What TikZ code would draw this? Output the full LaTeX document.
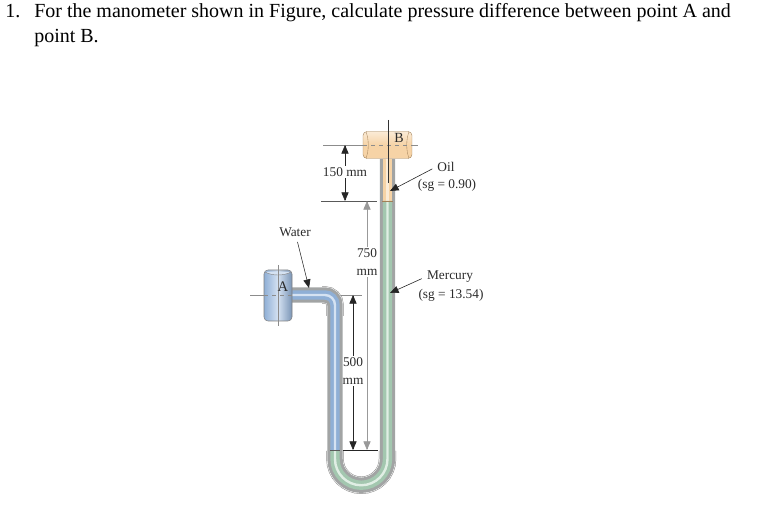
\documentclass[tikz,border=0pt]{standalone}
\usepackage{fontspec}
\setmainfont{Liberation Serif}
\usepackage{tikz}
\usetikzlibrary{arrows}
\definecolor{txtdark}{HTML}{2A2A2A}
\definecolor{wallgray}{HTML}{A2A4A4}
\definecolor{oilpeach}{HTML}{F6D3A6}
\definecolor{oillight}{HTML}{FBEBD6}
\definecolor{oilline}{HTML}{A08058}
\definecolor{waterblue}{HTML}{8FAFD6}
\definecolor{waterlight}{HTML}{D5E2F2}
\definecolor{merc}{HTML}{A3C7AF}
\definecolor{merclight}{HTML}{E0EEE4}
\tikzset{
  label/.style={font=\fontsize{10}{12}\selectfont,text=txtdark,inner sep=1pt},
  dimlabel/.style={label,align=center},
  dim/.style={-triangle 45,line width=0.45pt,black!85},
  dimgray/.style={-triangle 45,line width=0.45pt,black!40},
  leader/.style={-triangle 45,line width=0.45pt,black!85,shorten <=3pt},
  center/.style={line width=0.35pt,black!45},
  wall/.style={line width=11.5pt,wallgray},
  core/.style={line width=7pt},
  shine/.style={line width=1.8pt}
}
\begin{document}
\begin{tikzpicture}[x=0.75pt,y=0.75pt]
  \useasboundingbox (0,0) rectangle (758,511);
  % question text
  \node[anchor=base west,inner sep=0pt,font=\fontsize{15}{18.75}\selectfont] (qnum) at (5,493) {1.};
  \node[anchor=base west,inner sep=0pt,font=\fontsize{15}{18.75}\selectfont] (qline) at (34,493) {For the manometer shown in Figure, calculate pressure difference between point A and};
  \node[anchor=base west,inner sep=0pt,font=\fontsize{15}{18.75}\selectfont] (qlast) at (34,468) {point B.};
  % reference lines
  \draw[center] (250,216) -- (362,216);
  \draw[center] (323,366) -- (418,366);
  \draw[line width=0.6pt,black!65] (321,310) -- (377,310);
  % outer rim of the bends
  \draw[line width=13pt,black!50] (387.5,60) -- (387.5,52) arc[start angle=0,end angle=-180,radius=26.25] -- (335.0,60);
  \draw[line width=12.3pt,white] (387.5,60) -- (387.5,52) arc[start angle=0,end angle=-180,radius=26.25] -- (335.0,60);
  \draw[line width=13pt,black!50] (335.0,195) -- (335.0,206) arc[start angle=0,end angle=90,radius=10] -- (322,216);
  \draw[line width=12.3pt,white] (335.0,195) -- (335.0,206) arc[start angle=0,end angle=90,radius=10] -- (322,216);
  % tube walls
  \draw[wall,line cap=butt] (387.5,352) -- (387.5,52) arc[start angle=0,end angle=-180,radius=26.25] -- (335.0,206) arc[start angle=0,end angle=90,radius=10] -- (292,216);
  % oil in tube
  \draw[core,oilpeach] (387.5,352) -- (387.5,310);
  \draw[shine,oillight] (387.5,352) -- (387.5,310);
  % mercury
  \draw[core,merc] (387.5,310) -- (387.5,52) arc[start angle=0,end angle=-180,radius=26.25] -- (335.0,61);
  \draw[shine,merclight] (387.5,310) -- (387.5,52) arc[start angle=0,end angle=-180,radius=26.25] -- (335.0,61);
  % water
  \draw[core,waterblue] (335.0,61) -- (335.0,206) arc[start angle=0,end angle=90,radius=10] -- (292,216);
  \draw[shine,waterlight] (335.0,61) -- (335.0,206) arc[start angle=0,end angle=90,radius=10] -- (292,216);
  % level marks
  \draw[line width=0.7pt,oilline] (382,310) -- (393,310);
  \draw[line width=0.7pt,black!65] (330,61) -- (340,61);
  \draw[line width=0.45pt,black!85] (343,61) -- (378,61);
  % pipe B
  \draw[line width=0.3pt,oilline,top color=oillight,bottom color=oilpeach,middle color=oilpeach,rounded corners=3pt] (363,379.5) rectangle (412,352.5);
  \draw[line width=0.25pt,oilline] (366,379) .. controls (369,372) and (369,360) .. (366,353);
  \draw[line width=0.25pt,oilline] (409,379) .. controls (406,372) and (406,360) .. (409,353);
  \draw[center,dashed] (363,366) -- (412,366);
  \draw[line width=0.35pt,black!80] (388,391) -- (388,328);
  % pipe A
  \draw[line width=0.4pt,black!50,left color=waterblue,right color=waterblue!85!black,middle color=waterlight,rounded corners=3pt] (264,241) rectangle (292,190);
  \draw[line width=0.3pt,black!50,fill=waterlight] (265,239) .. controls (272,235) and (284,235) .. (291,239);
  \draw[center,dashed] (264,216) -- (292,216);
  \draw[center] (278,246) -- (278,185);
  % points
  \node[label,font=\fontsize{11}{12}\selectfont] (ptA) at (283,224) {A};
  \node[label,font=\fontsize{10.5}{12}\selectfont] (ptB) at (399,373) {B};
  % 150 mm
  \node[label] (lab150) at (345,339) {150 mm};
  \coordinate (top150) at (345,366);
  \coordinate (bot150) at (345,310);
  \draw[dim] (lab150) -- (top150);
  \draw[dim] (lab150) -- (bot150);
  % 750 mm
  \node[dimlabel,font=\fontsize{10}{13.5}\selectfont] (lab750) at (367,249) {750\\mm};
  \coordinate (top750) at (367,310);
  \coordinate (bot750) at (367,61);
  \draw[dimgray] (lab750) -- (top750);
  \draw[dimgray] (lab750) -- (bot750);
  % 500 mm
  \node[dimlabel,font=\fontsize{10}{13.5}\selectfont] (lab500) at (353,140) {500\\mm};
  \coordinate (top500) at (353,216);
  \coordinate (bot500) at (353,61);
  \draw[dim] (lab500) -- (top500);
  \draw[dim] (lab500) -- (bot500);
  % water label
  \node[label] (water) at (295,279) {Water};
  \coordinate (waterTip) at (309,223);
  \draw[leader] (water) -- (waterTip);
  % oil label
  \node[label] (oil) at (446,344) {Oil};
  \node[label] (oilSg) at (447,326) {(sg = 0.90)};
  \coordinate (oilTip) at (390,320);
  \draw[leader] (oil.west) -- (oilTip);
  % mercury label
  \node[label] (mercury) at (450,234) {Mercury};
  \node[label] (mercurySg) at (451,216) {(sg = 13.54)};
  \coordinate (mercuryTip) at (390,218);
  \draw[leader] (mercury.west) -- (mercuryTip);
\end{tikzpicture}
\end{document}
